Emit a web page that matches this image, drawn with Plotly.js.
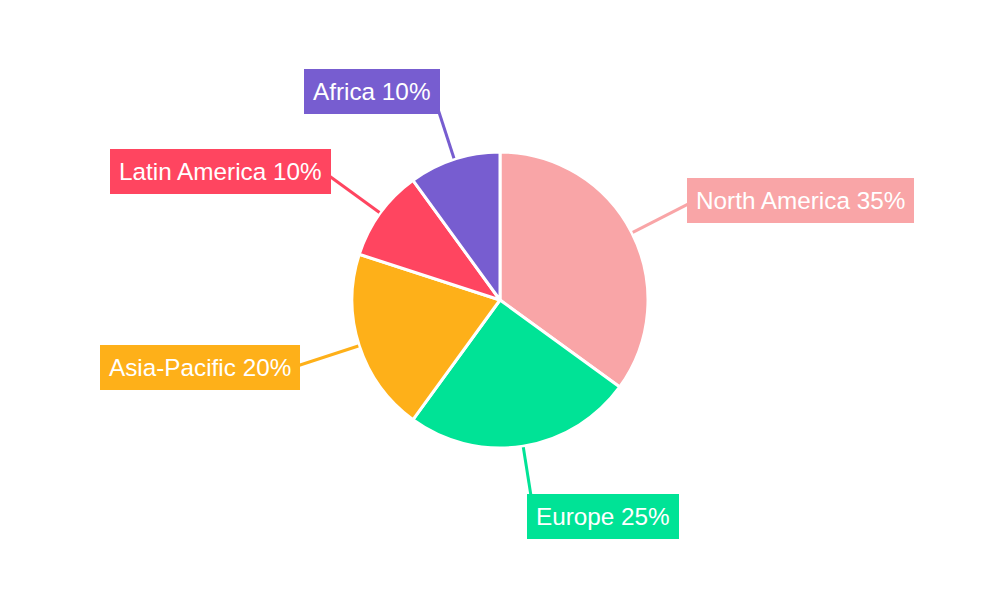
<!DOCTYPE html>
<html>
<head>
<meta charset="utf-8">
<script src="https://cdn.plot.ly/plotly-3.0.1.min.js"></script>
<style>
  html, body { margin: 0; padding: 0; background: #ffffff; }
  #chart { width: 1000px; height: 600px; }
</style>
</head>
<body>
<div id="chart"></div>
<script>
// Regional share of the total
const regions = ['North America', 'Europe', 'Asia-Pacific', 'Latin America', 'Africa'];
const shares = [35, 25, 20, 10, 10];
const sliceColors = ['#F9A5A7', '#00E396', '#FEB019', '#FF4560', '#775DD0'];

const W = 1000, H = 600;
const cx = 500, cy = 300, R = 148;   // pie centre and radius in pixels
const lineStart = 149;               // leader line starts at the slice edge
const lineEnd = 211;                 // and runs out to here

const px = x => x / W;
const py = y => 1 - y / H;

const total = shares.reduce((a, b) => a + b, 0);
const shapes = [];
const annotations = [];
let acc = 0;
shares.forEach((v, i) => {
  // mid angle of the slice, measured clockwise from 12 o'clock
  const a = (acc + v / 2) / total * 2 * Math.PI;
  acc += v;
  const s = Math.sin(a), c = Math.cos(a);
  const x0 = cx + lineStart * s, y0 = cy - lineStart * c;
  const x1 = cx + lineEnd * s, y1 = cy - lineEnd * c;
  shapes.push({
    type: 'line', xref: 'paper', yref: 'paper',
    x0: px(x0), y0: py(y0), x1: px(x1), y1: py(y1),
    line: { color: sliceColors[i], width: 3 },
    layer: 'above'
  });
  const right = s >= 0;
  const bx = x1 - (right ? 1 : -1) * 6 * c * c;
  const by = y1 - 8 * c;
  annotations.push({
    xref: 'paper', yref: 'paper',
    x: px(bx), y: py(by),
    xanchor: right ? 'left' : 'right', yanchor: 'middle',
    text: regions[i] + ' ' + v + '%',
    showarrow: false,
    bgcolor: sliceColors[i],
    borderpad: 9,
    borderwidth: 0,
    font: { family: 'Liberation Sans, Arial, sans-serif', size: 24.3, color: '#ffffff' }
  });
});

const trace = {
  type: 'pie',
  labels: regions,
  values: shares,
  sort: false,
  direction: 'clockwise',
  rotation: 0,
  textinfo: 'none',
  hoverinfo: 'label+percent',
  marker: { colors: sliceColors, line: { color: '#ffffff', width: 3 } },
  domain: { x: [(cx - R) / W, (cx + R) / W], y: [py(cy + R), py(cy - R)] },
  showlegend: false
};

const layout = {
  width: W, height: H,
  margin: { l: 0, r: 0, t: 0, b: 0 },
  paper_bgcolor: '#ffffff',
  plot_bgcolor: '#ffffff',
  showlegend: false,
  shapes: shapes,
  annotations: annotations
};

Plotly.newPlot('chart', [trace], layout, { displayModeBar: false, staticPlot: true });
</script>
</body>
</html>
